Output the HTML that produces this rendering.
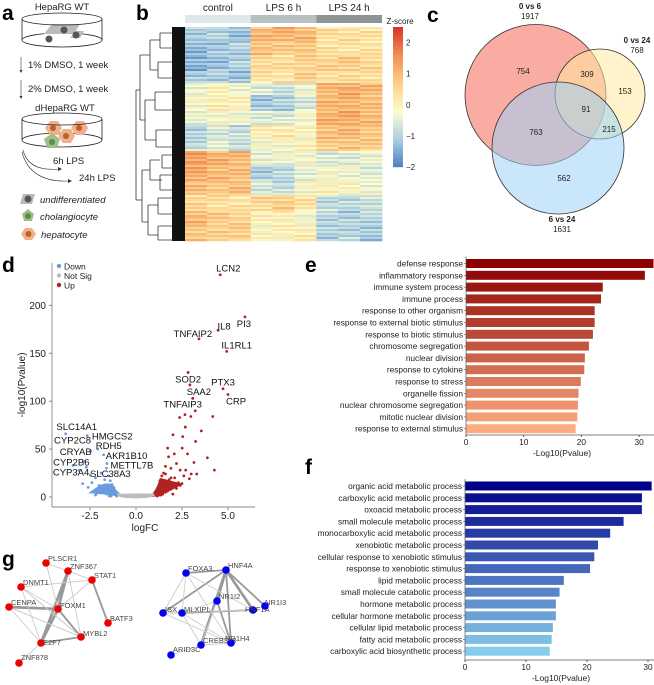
<!DOCTYPE html>
<html><head><meta charset="utf-8"><style>
html,body{margin:0;padding:0;background:#fff}
svg{display:block;font-family:"Liberation Sans",Arial,sans-serif}
</style></head><body>
<svg id="fig" width="654" height="685" viewBox="0 0 654 685">
<g font-weight="bold" font-size="21" fill="#000">
<text x="2" y="20">a</text>
<text x="136" y="20">b</text>
<text x="427" y="22">c</text>
<text x="2" y="272">d</text>
<text x="305" y="272">e</text>
<text x="305" y="474">f</text>
<text x="2" y="566">g</text>
</g>

<g id="pa" font-size="9.5" fill="#222">
<text x="62" y="10" text-anchor="middle">HepaRG WT</text>
<g fill="none" stroke="#222" stroke-width="0.8">
<ellipse cx="62" cy="40" rx="40" ry="7"/><line x1="22" y1="19" x2="22" y2="40"/><line x1="102" y1="19" x2="102" y2="40"/>
</g>
<polygon points="44,34 52,24 80,24 74,34" fill="#bbb"/><polygon points="70,38 76,31 84,31 80,38" fill="#bbb"/>
<circle cx="49" cy="39" r="3.5" fill="#555"/><circle cx="64" cy="30" r="3.5" fill="#555"/><circle cx="76" cy="35" r="3.5" fill="#555"/>
<ellipse cx="62" cy="19" rx="40" ry="6" fill="none" stroke="#222" stroke-width="0.8"/>
<line x1="21" y1="57" x2="21" y2="71" stroke="#555" stroke-width="0.7"/><polygon points="19.5,70 22.5,70 21,73" fill="#333"/>
<line x1="21" y1="80" x2="21" y2="97" stroke="#555" stroke-width="0.7"/><polygon points="19.5,96 22.5,96 21,99" fill="#333"/>
<text x="28" y="68">1% DMSO, 1 week</text>
<text x="28" y="92">2% DMSO, 1 week</text>
<text x="65" y="111" text-anchor="middle">dHepaRG WT</text>
<g fill="none" stroke="#222" stroke-width="0.8">
<ellipse cx="62" cy="140" rx="40" ry="7"/><line x1="22" y1="119" x2="22" y2="140"/><line x1="102" y1="119" x2="102" y2="140"/>
</g>
<polygon points="45,128 50,121 58,121 62,128 58,135 50,135" fill="#f0b08a"/>
<polygon points="71,128 76,121 84,121 88,128 84,135 76,135" fill="#f0b08a"/>
<polygon points="58,136 63,129 71,129 75,136 71,143 63,143" fill="#f0b08a"/>
<polygon points="52,133 60,139 57,148 47,148 44,139" fill="#9fbf8a"/>
<circle cx="53" cy="128" r="3" fill="#b5622c"/><circle cx="79" cy="128" r="3" fill="#b5622c"/><circle cx="66" cy="136" r="3" fill="#b5622c"/><circle cx="52" cy="142" r="3" fill="#5e8a4a"/>
<ellipse cx="62" cy="119" rx="40" ry="6" fill="none" stroke="#222" stroke-width="0.8"/>
<path d="M23,150 Q28,172 60,169" fill="none" stroke="#333" stroke-width="0.6"/><polygon points="58,167 62,169 58,171" fill="#333"/>
<path d="M22,152 Q30,183 70,181" fill="none" stroke="#333" stroke-width="0.6"/><polygon points="68,179 72,181 68,183" fill="#333"/>
<text x="53" y="164">6h LPS</text>
<text x="79" y="181">24h LPS</text>
<polygon points="23,194 35,194 32,204 20,204" fill="#bbb"/><circle cx="28" cy="199" r="3.5" fill="#555"/>
<polygon points="28,209 34,214 32,221 24,221 22,214" fill="#9fbf8a"/><circle cx="28" cy="216" r="3" fill="#5e8a4a"/>
<polygon points="21,234 25,228 32,228 36,234 32,240 25,240" fill="#f0b08a"/><circle cx="28.5" cy="234" r="3" fill="#b5622c"/>
<g font-style="italic"><text x="40" y="203">undifferentiated</text>
<text x="40" y="220">cholangiocyte</text>
<text x="41" y="238">hepatocyte</text></g>
</g>

<g id="pb"></g>
<g id="pc"></g>
<g id="pd"></g>
<g id="pe"></g>
<g id="pf"></g>
<g id="pg"></g>
</svg>
<script>
// ---------- DATA ----------
const heatGroups = ["control","LPS 6 h","LPS 24 h"];
const heatBandEnds = [40,55,70,82,95,110,125,138,150,165,180,195,210,225,241];
const heatBandValues = [
 [-1,-1,-1.2,1,1.1,1,0.4,0.4,0.3],
 [-1.3,-1.1,-1,0.9,0.7,0.8,0.3,0.3,0.3],
 [-1.4,-1.2,-1,0.5,0.4,0.6,0.6,0.7,0.5],
 [-1.1,-1,-1.2,0.3,0.3,0.6,0.4,0.4,0.4],
 [-0.3,0,-0.3,-0.6,-0.7,-0.3,1,1.2,1],
 [-0.2,0.1,0,-1.1,-1,-0.6,1,1.1,0.9],
 [-0.4,-0.2,-0.3,-0.5,-0.6,-0.2,1.1,1.2,1],
 [-1,-0.6,-0.8,0.1,0.2,-0.1,0.9,1,0.8],
 [-0.8,-0.5,-0.7,-0.3,-0.2,0,0.7,0.8,0.7],
 [1.4,1.1,1,-0.4,-0.3,-0.2,-0.6,-0.5,-0.4],
 [1.2,1,0.9,-1,-0.9,-0.4,-0.2,-0.3,-0.5],
 [0.9,0.8,0.9,-0.6,-0.8,-0.2,0,-0.1,-0.3],
 [0.5,0.4,0.3,0.5,0.7,0.3,-0.8,-0.9,-0.7],
 [1,0.7,0.6,0,0.1,-0.3,-0.9,-1,-0.9],
 [0.8,0.6,0.7,-0.1,0,0.1,-1,-0.9,-1.1]];
const heatStripe = [0.3,-0.2,0.1,-0.4,0.2,0,-0.3,0.4,-0.1];
const zTicks = [2,1,0,-1,-2];

const vennSets = ["0 vs 6","0 vs 24","6 vs 24"];
const vennTotals = [1917,768,1631];
const vennRegions = [754,309,153,91,763,215,562];

const upFC = [4.58,5.92,4.46,3.42,4.93,2.83,4.73,2.93,5.0,3.08,3.22,2.37,2.66,2.98,4.17,3.55,2.01,2.68,3.24,2.54,1.72,2.51,2.08,3.88,4.26,3.15,1.77,2.2,1.9,2.4,2.8,1.6,1.5,2.1,2.6,3.0,1.8,2.3,1.4,1.3,2.0,2.5,1.7,1.6,2.9,1.2,1.5,1.9,2.2,1.4,1.8,1.1,1.3,1.6,2.4,1.25,1.45,1.7,2.0,1.15,1.35,1.55,1.05,1.2,1.4,1.6,1.8,1.1,1.3,2.7,3.3];
const upP = [232,188,174,165,152,130,113,117,107,103,90,83,86,84,84,69,65,73,58,63,51,51,45,41,28,36,42,35,30,28,45,32,25,20,22,24,18,15,22,17,12,14,10,24,19,8,14,20,9,6,11,4,9,5,12,2,3,6,3,1,2,12,3,5,7,15,16,2,4,28,24];
const downFC = [-3.82,-2.65,-2.08,-1.76,-1.58,-2.46,-2.7,-3.42,-2.48,-3.1,-2.9,-2.2,-1.9,-1.6,-1.4,-2.6,-2.3,-2.0,-1.7,-1.5,-1.3,-1.2,-1.8,-2.1,-1.4,-1.6,-1.1,-1.3,-1.9,-2.4,-2.8,-1.5,-1.2,-1.05,-1.7,-1.35,-1.15,-2.2,-1.45,-1.25];
const downP = [66,64,50,44,35,48,31,33,23,28,14,20,25,30,17,10,6,12,18,9,13,8,5,4,2,3,2,5,11,15,37,22,10,1,7,1,4,2,1,3];
const nsFC = [-1,-0.8,-0.6,-0.4,-0.2,0,0.2,0.4,0.6,0.8,1,-0.9,-0.5,-0.3,0.3,0.5,0.9,-0.7,0.7,0.1,-0.1];
const nsP = [2,1.5,1,0.6,0.3,0,0.3,0.6,1,1.5,2,3,2,1.2,1.2,2,3,2.4,2.4,0.8,0.8];
const geneLabels = ["LCN2","PI3","IL8","TNFAIP2","IL1RL1","SOD2","PTX3","SAA2","CRP","TNFAIP3","SLC14A1","HMGCS2","CYP2C8","RDH5","CRYAB","AKR1B10","CYP2B6","METTL7B","CYP3A4","SLC38A3"];
const geneFC = [4.58,5.92,4.46,3.42,4.93,2.83,4.73,2.93,5.0,3.08,-3.82,-2.65,-3.45,-2.08,-2.46,-1.76,-2.7,-1.58,-3.42,-2.48];
const geneP = [232,188,174,165,152,130,113,117,107,103,66,64,55,50,48,44,31,35,33,23];
const volcXTicks = [-2.5,0,2.5,5];
const volcYTicks = [0,50,100,150,200];

const goE = ["defense response","inflammatory response","immune system process","immune process","response to other organism","response to external biotic stimulus","response to biotic stimulus","chromosome segregation","nuclear division","response to cytokine","response to stress","organelle fission","nuclear chromosome segregation","mitotic nuclear division","response to external stimulus"];
const goEVal = [32.5,31,23.7,23.4,22.3,22.3,22,21.3,20.6,20.5,19.9,19.5,19.4,19.3,19.0];
const goF = ["organic acid metabolic process","carboxylic acid metabolic process","oxoacid metabolic process","small molecule metabolic process","monocarboxylic acid metabolic process","xenobiotic metabolic process","cellular response to xenobiotic stimulus","response to xenobiotic stimulus","lipid metabolic process","small molecule catabolic process","hormone metabolic process","cellular hormone metabolic process","cellular lipid metabolic process","fatty acid metabolic process","carboxylic acid biosynthetic process"];
const goFVal = [30.6,29,29,26,23.8,21.8,21.2,20.5,16.2,15.5,14.9,14.9,14.4,14.2,13.9];
const barTicks = [0,10,20,30];

const redNodes = ["PLSCR1","ZNF367","STAT1","DNMT1","CENPA","FOXM1","BATF3","MYBL2","E2F7","ZNF878"];
const blueNodes = ["FOXA3","HNF4A","NR1I2","ISX","MLXIPL","HNF1A","NR1I3","CREB3L3","NR1H4","ARID3C"];

// ---------- helpers ----------
const NS="http://www.w3.org/2000/svg";
function mk(tag, attrs, parent, text){const e=document.createElementNS(NS,tag);for(const k in attrs)e.setAttribute(k,attrs[k]);if(text!==undefined)e.textContent=text;parent.appendChild(e);return e;}
function lerp(a,b,t){return a+(b-a)*t;}
function hex(c){return [parseInt(c.slice(1,3),16),parseInt(c.slice(3,5),16),parseInt(c.slice(5,7),16)];}
function ramp(stops,t){t=Math.max(0,Math.min(1,t));const n=stops.length-1;const i=Math.min(n-1,Math.floor(t*n));const f=t*n-i;const a=hex(stops[i]),b=hex(stops[i+1]);return `rgb(${Math.round(lerp(a[0],b[0],f))},${Math.round(lerp(a[1],b[1],f))},${Math.round(lerp(a[2],b[2],f))})`;}
const zStops=["#4a7dbf","#a9cde5","#fdfdcc","#fdd08a","#f29155","#d9352a"];
function zColor(v){return ramp(zStops,(v+2)/4.5);}

// ---------- panel b ----------
(function(){
 const g=document.getElementById('pb');
 const x0=185,x1=382,y0=27,cw=(x1-x0)/9;
 const hdr=["#dde8e9","#b7c1c1","#8d9494"];
 heatGroups.forEach((n,i)=>{
  const r=mk('rect',{x:x0+i*cw*3,y:15,width:cw*3,height:8,fill:hdr[i]},g);
  
  
  const t=mk('text',{x:x0+i*cw*3+cw*1.5,y:11,'text-anchor':'middle','font-size':'10',fill:'#222'},g,n);
  
  
 });
 let row=0,b=0;
 for(let y=y0;y<241;y+=2,row++){
  while(y>=heatBandEnds[b])b++;
  for(let c=0;c<9;c++){
   const v=heatBandValues[b][c]+heatStripe[(row+c*4)%9];
   const r=mk('rect',{x:x0+c*cw,y:y,width:cw+0.4,height:2.3,fill:zColor(v)},g);
   
   
  }
 }
 mk('rect',{x:172,y:27,width:13,height:214,fill:'#111'},g);
 const dp=["M136,90 H140 M136,90 V200 M136,200 H142","M140,55 V120 M140,55 H150 M140,120 H145","M142,170 V222 M142,170 H150 M142,222 H148",
  "M150,40 V70 M150,40 H160 M150,70 H158","M145,100 V140 M145,100 H155 M145,140 H156","M150,160 V180 M150,160 H160 M150,180 H162",
  "M148,205 V235 M148,205 H158 M148,235 H158","M160,33 V48 M158,62 V78 M155,92 V110 M156,130 V147 M162,155 V168 M160,175 V190 M158,198 V214 M158,226 V240",
  "M160,33 H172 M160,48 H172 M158,62 H172 M158,78 H172 M155,92 H172 M155,110 H172 M156,130 H172 M156,147 H172 M162,155 H172 M162,168 H172 M160,175 H172 M160,190 H172 M158,198 H172 M158,214 H172 M158,226 H172 M158,240 H172"];
 dp.forEach(d=>mk('path',{d:d,fill:'none',stroke:'#333','stroke-width':'0.8'},g));
 const cb=mk('g',{},g);
 for(let i=0;i<70;i++){mk('rect',{x:393,y:27+i*2,width:10,height:2.2,fill:zColor(2.5-i*4.5/70)},cb);}
 mk('text',{x:400,y:24,'text-anchor':'middle','font-size':'8',fill:'#222'},cb,'Z-score');
 zTicks.forEach(t=>{const yy=27+(2.5-t)/4.5*140;mk('text',{x:406,y:yy+3,'font-size':'8',fill:'#222'},cb,t<0?'\u2212'+(-t):String(t));});
})();

// ---------- panel c ----------
(function(){
 const g=document.getElementById('pc');
 const circ=[[535.5,95,70.5,"#f8877a",0.7],[600,94,45,"#fde9a0",0.55],[558,148,66,"#9fd2f5",0.55]];
 circ.forEach((c,i)=>{const e=mk('circle',{cx:c[0],cy:c[1],r:c[2],fill:c[3],'fill-opacity':c[4],stroke:'#333','stroke-width':'0.8'},g);
  
  });
 const lp=[[530,9],[637,43],[562,222]];
 vennSets.forEach((s,i)=>{mk('text',{x:lp[i][0],y:lp[i][1],'text-anchor':'middle','font-size':'8','font-weight':'bold',fill:'#222'},g,s);
  mk('text',{x:lp[i][0],y:lp[i][1]+10,'text-anchor':'middle','font-size':'8',fill:'#222'},g,String(vennTotals[i]));});
 const rp=[[523,74],[587,77],[625,94],[586,112],[536,135],[609,132],[564,181]];
 vennRegions.forEach((v,i)=>{const t=mk('text',{x:rp[i][0],y:rp[i][1],'text-anchor':'middle','font-size':'8',fill:'#222'},g,String(v));
  
  });
})();

// ---------- panel d ----------
(function(){
 const g=document.getElementById('pd');
 const X=v=>136+v*18.4, Y=v=>497-v*0.958;
 mk('line',{x1:52,y1:263,x2:52,y2:507,stroke:'#888','stroke-width':'0.9'},g);
 mk('line',{x1:52,y1:507,x2:255,y2:507,stroke:'#888','stroke-width':'0.9'},g);
 volcYTicks.forEach(t=>{mk('line',{x1:49,x2:52,y1:Y(t),y2:Y(t),stroke:'#888'},g);mk('text',{x:46,y:Y(t)+3.5,'text-anchor':'end','font-size':'10',fill:'#222'},g,String(t));});
 volcXTicks.forEach(t=>{mk('line',{x1:X(t),x2:X(t),y1:507,y2:510,stroke:'#888'},g);mk('text',{x:X(t),y:519,'text-anchor':'middle','font-size':'10',fill:'#222'},g,t.toFixed(1));});
 mk('text',{x:145,y:531,'text-anchor':'middle','font-size':'10',fill:'#222'},g,'logFC');
 mk('text',{x:0,y:0,'text-anchor':'middle','font-size':'10',fill:'#222',transform:'translate(25,385) rotate(-90)'},g,'-log10(Pvalue)');
 mk('path',{d:`M${X(1)},${Y(0)} Q${X(2.2)},${Y(8)} ${X(2.5)},${Y(14)} L${X(1.3)},${Y(20)} Q${X(1.1)},${Y(6)} ${X(0.7)},${Y(0)}Z`,fill:'#b22222'},g);
 mk('path',{d:`M${X(-0.7)},${Y(0)} Q${X(-1.8)},${Y(3)} ${X(-2.6)},${Y(4)} L${X(-2)},${Y(12)} Q${X(-1.3)},${Y(18)} ${X(-1.1)},${Y(8)}Z`,fill:'#6a9be0'},g);
 mk('ellipse',{cx:X(0),cy:Y(1.2),rx:18.4,ry:2.5,fill:'#bdbdbd'},g);
 nsFC.forEach((v,i)=>{const c=mk('circle',{cx:X(v),cy:Y(nsP[i]),r:1.5,fill:'#bdbdbd'},g);});
 upFC.forEach((v,i)=>{const c=mk('circle',{cx:X(v),cy:Y(upP[i]),r:1.4,fill:'#b22222'},g);});
 downFC.forEach((v,i)=>{const c=mk('circle',{cx:X(v),cy:Y(downP[i]),r:1.4,fill:'#6a9be0'},g);});
 const off=[[8,-3],[-1,10],[6,-1],[-6,-2],[10,-3],[0,10],[0,-3],[9,10],[8,10],[-10,9],[11,-4],[25,4],[0,-1],[11,0],[-15,4],[23,4],[-15,-2],[25,5],[-2,10],[20,2]];
 geneLabels.forEach((n,i)=>{const t=mk('text',{x:X(geneFC[i])+off[i][0],y:Y(geneP[i])+off[i][1],'text-anchor':'middle','font-size':'9.5',fill:'#111'},g,n);
  
  });
 const lg=[["Down","#6a9be0"],["Not Sig","#bdbdbd"],["Up","#b22222"]];
 lg.forEach((l,i)=>{mk('circle',{cx:59,cy:266+i*9.5,r:2.2,fill:l[1]},g);const t=mk('text',{x:64,y:269.5+i*9.5,'font-size':'8.5',fill:'#222'},g,l[0]);
  
  });
})();

// ---------- panels e, f ----------
function bars(gid,labels,vals,x0,pxPer,yTop,pitch,c0,c1,axisY,label){
 const g=document.getElementById(gid);
 labels.forEach((l,i)=>{const y=yTop+i*pitch;
  const r=mk('rect',{x:x0,y:y-4.5,width:vals[i]*pxPer,height:9,fill:ramp([c0,c1],i/(labels.length-1))},g);
  
  
  mk('line',{x1:x0-2,x2:x0,y1:y,y2:y,stroke:'#555','stroke-width':'0.6'},g);
  const t=mk('text',{x:x0-3,y:y+3,'text-anchor':'end','font-size':'8.3',fill:'#222'},g,l);
  
  });
 mk('line',{x1:x0,y1:yTop-7,x2:x0,y2:axisY,stroke:'#555','stroke-width':'0.7'},g);
 mk('line',{x1:x0,y1:axisY,x2:654,y2:axisY,stroke:'#555','stroke-width':'0.7'},g);
 barTicks.forEach(t=>{mk('line',{x1:x0+t*pxPer,x2:x0+t*pxPer,y1:axisY,y2:axisY+2,stroke:'#555'},g);
  mk('text',{x:x0+t*pxPer,y:axisY+10,'text-anchor':'middle','font-size':'8.3',fill:'#222'},g,String(t));});
 mk('text',{x:x0+96,y:axisY+21,'text-anchor':'middle','font-size':'8.5',fill:'#222'},g,label);
}
bars('pe',goE,goEVal,466,5.77,263.5,11.8,"#8b0000","#fdab80",435,'-Log10(Pvalue)');
bars('pf',goF,goFVal,465,6.1,486,11.8,"#000088","#87cdeb",660,'-Log10(Pvalue)');

// ---------- panel g ----------
(function(){
 const g=document.getElementById('pg');
 const rx=[46,68,92,21,9,58,108,81,41,19], ry=[563,571,580,587,607,609,623,637,643,663];
 const bx=[186,226,217,163,182,253,265,201,231,171], by=[573,570,601,613,613,610,606,645,643,655];
 const rE=[[5,4,3],[5,8,3],[5,1,3],[5,3,1],[1,8,3],[2,6,2],[7,8,2],[7,5,2],[7,4,1],[7,3,1],[0,1,1],[0,2,1],[3,2,1],[4,8,1],[3,8,1],[1,2,1],[7,1,1],[9,8,1],[2,5,1],[4,7,1],[3,7,1],[0,5,1]];
 const bE=[[1,0,2],[1,2,3],[1,5,3],[1,6,2],[1,7,3],[1,8,2],[1,3,2],[4,5,2],[2,8,2],[7,8,1],[0,3,1],[0,4,1],[0,5,1],[3,4,1],[3,5,1],[4,8,1],[4,7,1],[9,7,1],[2,4,1],[3,8,1],[2,7,1],[0,8,1]];
 function draw(xs,ys,E,names,col,offs){
  E.forEach(e=>{const l=mk('line',{x1:xs[e[0]],y1:ys[e[0]],x2:xs[e[1]],y2:ys[e[1]],stroke:e[2]>1?'#999':'#ccc','stroke-width':e[2]*0.9},g);
   
   });
  names.forEach((n,i)=>{const c=mk('circle',{cx:xs[i],cy:ys[i],r:3.8,fill:col},g);
   
   
   const t=mk('text',{x:xs[i]+offs[i][0],y:ys[i]+offs[i][1],'font-size':'7.5',fill:'#444'},g,n);
   
   });
 }
 draw(rx,ry,rE,redNodes,'#ee0000',[[2,-2],[2,-2],[2,-2],[2,-2],[2,-2],[2,-1],[2,-2],[2,-1],[2,2],[2,-3]]);
 draw(bx,by,bE,blueNodes,'#0000ee',[[2,-2],[2,-2],[2,-2],[2,-1],[2,-1],[-8,2],[0,-1],[2,-2],[-6,-2],[2,-3]]);
})();
</script>
</body></html>
